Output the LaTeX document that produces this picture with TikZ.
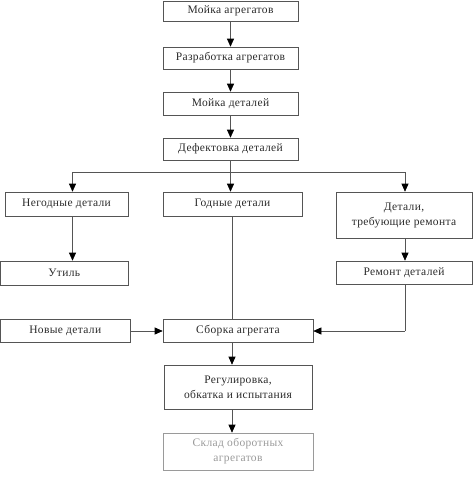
\documentclass[tikz,border=0pt]{standalone}
\usepackage{fontspec}
\setmainfont[LetterSpace=3]{Liberation Serif}
\usetikzlibrary{arrows.meta}
\definecolor{linegray}{HTML}{555555}
\definecolor{txtgray}{HTML}{2A2A2A}
\definecolor{fadegray}{HTML}{9A9A9A}
\begin{document}
\begin{tikzpicture}[x=1pt,y=-1pt,
  box/.style={draw=linegray, line width=0.6pt, inner sep=0pt, align=center,
    font=\fontsize{11.5}{15}\selectfont, text=txtgray},
  fadebox/.style={box, draw=fadegray, text=fadegray},
  conn/.style={draw=linegray, line width=0.6pt},
  arr/.style={conn, -{Triangle[length=8pt,width=7pt,color=black]}}]
\useasboundingbox (0,0) rectangle (474,479);
% boxes
\node[box, minimum width=135, minimum height=20] (b1) at (230.5,11) {Мойка агрегатов};
\node[box, minimum width=135, minimum height=22] (b2) at (230.5,58) {Разработка агрегатов};
\node[box, minimum width=135, minimum height=23] (b3) at (230.5,103.5) {Мойка деталей};
\node[box, minimum width=135, minimum height=22] (b4) at (230.5,149) {Дефектовка деталей};
\node[box, minimum width=123, minimum height=24] (ng) at (66.5,204) {Негодные детали};
\node[box, minimum width=139, minimum height=24] (god) at (232.5,204) {Годные детали};
\node[box, minimum width=136, minimum height=46] (rq) at (404,215) {Детали,\\требующие ремонта};
\node[box, minimum width=127.5, minimum height=24] (util) at (64.25,273) {Утиль};
\node[box, minimum width=136, minimum height=23] (rem) at (404,272.5) {Ремонт деталей};
\node[box, minimum width=129.5, minimum height=23] (new) at (65.25,330.5) {Новые детали};
\node[box, minimum width=150, minimum height=23] (sb) at (238,330.5) {Сборка агрегата};
\node[box, minimum width=148, minimum height=44] (reg) at (238,387) {Регулировка,\\обкатка и испытания};
\node[fadebox, minimum width=150, minimum height=37] (sk) at (238,451.5) {Склад оборотных\\агрегатов};
% junction coordinates
\coordinate (jl) at (72.5,172);
\coordinate (jm) at (230.5,172);
\coordinate (jr) at (405,172);
\coordinate (ax) at (232,0);
\coordinate (cr) at (405,331);
% connectors
\draw[arr] (b1) -- (b2);
\draw[arr] (b2) -- (b3);
\draw[arr] (b3) -- (b4);
\draw[conn] (b4.south) -- (jm);
\draw[conn] (jl) -- (jr);
\draw[arr] (jl) -- (jl |- ng.north);
\draw[arr] (jm) -- (jm |- god.north);
\draw[arr] (jr) -- (jr |- rq.north);
\draw[arr] (ng.south -| jl) -- (util.north -| jl);
\draw[arr] (rq.south -| jr) -- (rem.north -| jr);
\draw[conn] (god.south -| ax) -- (sb.north -| ax);
\draw[conn] (rem.south -| jr) -- (cr);
\draw[arr] (cr) -- (sb.east |- cr);
\draw[arr] (new.east |- cr) -- (sb.west |- cr);
\draw[arr] (sb.south -| ax) -- (reg.north -| ax);
\draw[arr] (reg.south -| ax) -- (sk.north -| ax);
\end{tikzpicture}
\end{document}
